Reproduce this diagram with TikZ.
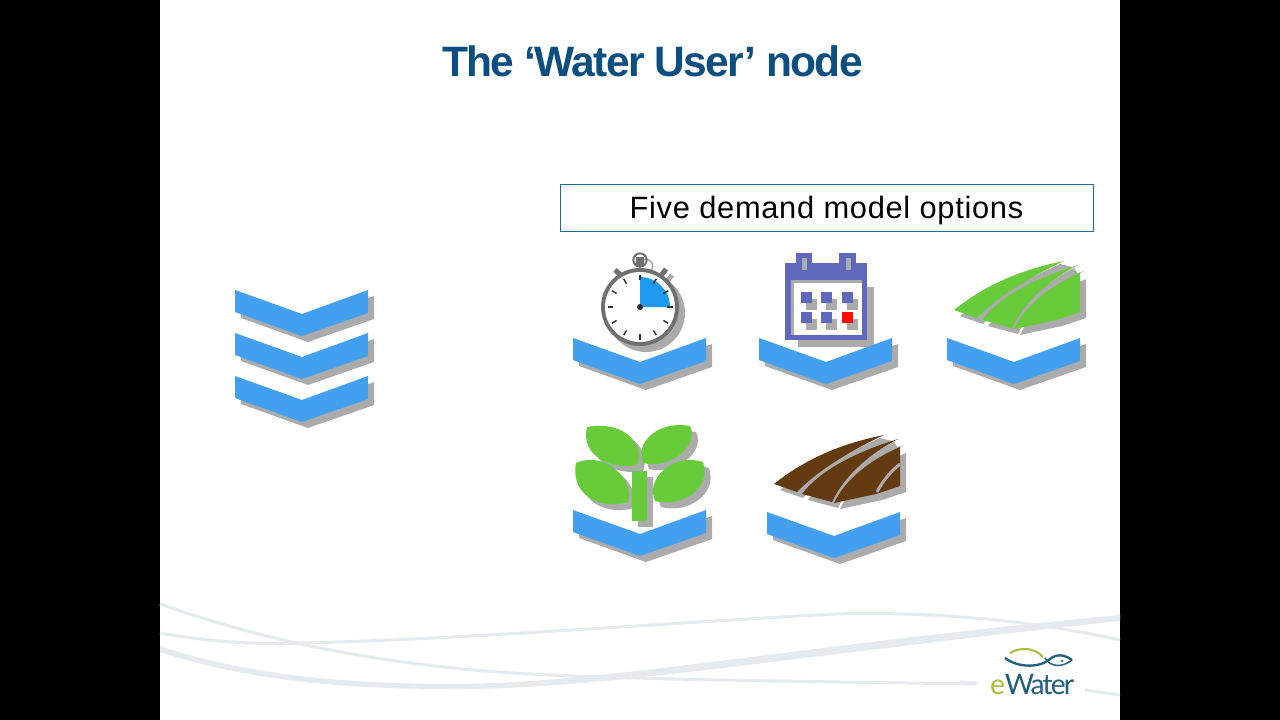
\documentclass[tikz,border=0pt]{standalone}
\usepackage{fontspec}
\setmainfont{Liberation Sans}
\newfontfamily\logofont{Lato}
\usetikzlibrary{positioning}
\definecolor{chevblue}{HTML}{439FEF}
\definecolor{dialblue}{HTML}{1E9BF0}
\definecolor{shadowgray}{HTML}{ABABAB}
\definecolor{titleblue}{HTML}{0B4F82}
\definecolor{boxteal}{HTML}{1B6F8A}
\definecolor{leafgreen}{HTML}{68CB3A}
\definecolor{soilbrown}{HTML}{643A10}
\definecolor{calblue}{HTML}{6068BC}
\definecolor{watchgray}{HTML}{707070}
\definecolor{swoosh}{HTML}{E6E9ED}
\definecolor{logogreen}{HTML}{A8BE3C}
\definecolor{logonavy}{HTML}{1F5F7F}
\tikzstyle{title} = [font=\bfseries\fontsize{25.5}{30}\selectfont\addfontfeatures{LetterSpace=-3.9},text=titleblue,inner sep=0,anchor=base]
\tikzstyle{banner} = [draw=boxteal,line width=0.6pt,fill=white,minimum width=319.8pt,minimum height=28.2pt,inner sep=0,text height=17pt,text depth=4pt,font=\fontsize{18.5}{22}\selectfont\addfontfeatures{LetterSpace=2.3}]
\tikzstyle{thinline} = [draw=swoosh,line width=1.8pt]
\tikzset{
  chevron/.pic={
    \fill[shadowgray] (6,6) -- (73,30) -- (139,6) -- (139,29) -- (73,52) -- (6,28) -- cycle;
    \fill[chevblue] (0,0) -- (67,24) -- (133,0) -- (133,23) -- (67,46) -- (0,22) -- cycle;
  },
  furrows/.pic={
    \fill[pic actions] (0,0) .. controls (30,-24) and (65,-40) .. (110,-49) .. controls (80,-35) and (45,-15) .. (23,8) -- cycle;
    \fill[pic actions] (28,10) .. controls (47,-15) and (85,-33) .. (124,-45) .. controls (95,-30) and (70,-8) .. (58,18) -- cycle;
    \fill[pic actions] (60,19) .. controls (72,-6) and (98,-25) .. (126,-37) -- (126,2) -- (102,10) -- cycle;
  },
  furrowgaps/.pic={
    \fill[shadowgray] (106,-46) .. controls (80,-35) and (45,-15) .. (23,8) -- (28,10) .. controls (47,-15) and (85,-33) .. (118,-43) -- cycle;
    \fill[shadowgray] (120,-42) .. controls (95,-30) and (70,-8) .. (58,18) -- (60,19) .. controls (72,-6) and (98,-25) .. (124,-36) -- cycle;
  },
  leaves/.pic={
    \fill[pic actions] (587,427) .. controls (625,420) and (645,445) .. (637,465) .. controls (610,470) and (580,455) .. (587,427) -- cycle;
    \fill[pic actions] (690,426) .. controls (655,420) and (635,445) .. (643,463) .. controls (670,470) and (700,445) .. (690,426) -- cycle;
    \fill[pic actions] (576,463) .. controls (605,450) and (635,480) .. (628,502) .. controls (600,510) and (570,495) .. (576,463) -- cycle;
    \fill[pic actions] (703,462) .. controls (672,452) and (645,480) .. (655,501) .. controls (682,508) and (712,488) .. (703,462) -- cycle;
    \fill[pic actions] (632,471) rectangle (647,521);
  }
}
\def \sh {6}

\begin{document}
\begin{tikzpicture}[x=0.6pt,y=-0.6pt]
  \useasboundingbox (0,0) rectangle (1280,720);
  \fill[black] (0,0) rectangle (1280,720);
  \fill[white] (160,0) rectangle (1120,720);

  % swooshes
  \draw[thinline] (160,604) .. controls (240,632) and (330,655) .. (453,668) .. controls (540,678) and (700,680) .. (976,684);
  \draw[thinline] (160,633) .. controls (210,642) and (260,645) .. (301,643) .. controls (450,640) and (680,622) .. (835,614) .. controls (940,611) and (1040,622) .. (1120,640);
  \fill[swoosh] (160,646) .. controls (260,680) and (380,684) .. (453,684) .. controls (600,684) and (800,645) .. (1120,615) -- (1120,621) .. controls (800,655) and (600,690) .. (453,689) .. controls (370,689) and (260,685) .. (160,652) -- cycle;
  \draw[thinline] (960,682) -- (977,683);
  \draw[thinline] (1085,690) -- (1120,695);

  \node[title] (heading) at (652.5,76) {The ‘Water User’ node};
  \node[banner] (options) at (826.5,207.5) {Five demand model options};

  % left stack
  \foreach \y in {290,333,376}
    \pic at (235,\y) {chevron};

  % stopwatch
  \draw[shadowgray,line width=1pt] (646,266) circle[radius=4pt];
  \draw[shadowgray,line width=3pt] (621,276) -- (629,283);
  \draw[shadowgray,line width=3pt] (672,275) -- (666,283);
  \fill[shadowgray] (646,313) circle[radius=23.4pt];
  \draw[watchgray,line width=1.2pt] (640,260) circle[radius=4pt];
  \draw[watchgray,line width=3pt] (615,270) -- (623,277);
  \draw[watchgray,line width=3pt] (666,269) -- (660,277);
  \fill[watchgray] (640,307) circle[radius=23.4pt];
  \fill[watchgray] (636,257) rectangle (644,266);
  \fill[white] (640,307) circle[radius=21pt];
  \fill[dialblue] (640,307) -- (640,277) arc[start angle=90,end angle=0,radius=18pt] -- cycle;
  \foreach \a in {30,60,...,360}
    \draw[shift={(640,307)},black!80,line width=0.9pt] (\a:27) -- (\a:32.5);
  \fill[black!85] (640,307) circle[radius=1.8pt];

  % calendar
  \fill[shadowgray] (798,287) rectangle (874,347);
  \fill[calblue] (785,263) rectangle (867,340);
  \fill[calblue] (796,253) rectangle (812,265);
  \fill[calblue] (839,253) rectangle (856,265);
  \fill[shadowgray] (802,258) rectangle (807,270);
  \fill[shadowgray] (846,258) rectangle (851,270);
  \fill[white] (791,280) rectangle (862,335);
  \fill[shadowgray] (791,280) rectangle (862,283);
  \fill[shadowgray] (791,280) rectangle (794,335);
  \foreach \x in {800.7,821,842}
    \foreach \y in {291.7,311.7}{
      \fill[shadowgray] (\x+5,\y+7) rectangle +(11,11);
      \fill[calblue] (\x,\y) rectangle +(11,11);
    }
  \fill[red!90!orange] (842,311.7) rectangle +(11,11);

  \pic at (573,338) {chevron};
  \pic at (759,338) {chevron};
  \pic at (947,338) {chevron};
  \pic at (573,510) {chevron};
  \pic at (767,512) {chevron};

  % fields and plant
  \pic[fill=shadowgray] at (954+\sh,310+\sh) {furrows};
  \pic at (954,310) {furrowgaps};
  \pic[fill=leafgreen] at (954,310) {furrows};
  \begin{scope}[shift={(\sh,\sh)}]
    \pic[fill=shadowgray] {leaves};
  \end{scope}
  \pic[fill=leafgreen] {leaves};
  \pic[fill=shadowgray] at (774+\sh,484+\sh) {furrows};
  \pic at (774,484) {furrowgaps};
  \pic[fill=soilbrown] at (774,484) {furrows};
  \draw[shadowgray,line width=1.8pt] (877,492) .. controls (882,482) and (890,472) .. (900,464);

  % logo
  \draw[logogreen,line width=1.2pt] (1010,653) .. controls (1020,647) and (1034,647) .. (1043,657);
  \draw[logonavy,line width=1.4pt] (1005,658) .. controls (1018,668) and (1040,668) .. (1050,659) .. controls (1056,654) and (1064,654) .. (1072,660);
  \draw[logonavy,line width=0.9pt] (1045,658) .. controls (1050,667) and (1062,668) .. (1072,660);
  \fill[logonavy!70!cyan] (1062,661) circle[radius=0.9pt];
  \node[inner sep=0,anchor=base,font=\logofont\fontsize{17}{20}\selectfont\addfontfeatures{LetterSpace=-7}] (logo) at (1032,694) {\textcolor{logogreen}{e}\textcolor{logonavy}{Water}};
\end{tikzpicture}
\end{document}
